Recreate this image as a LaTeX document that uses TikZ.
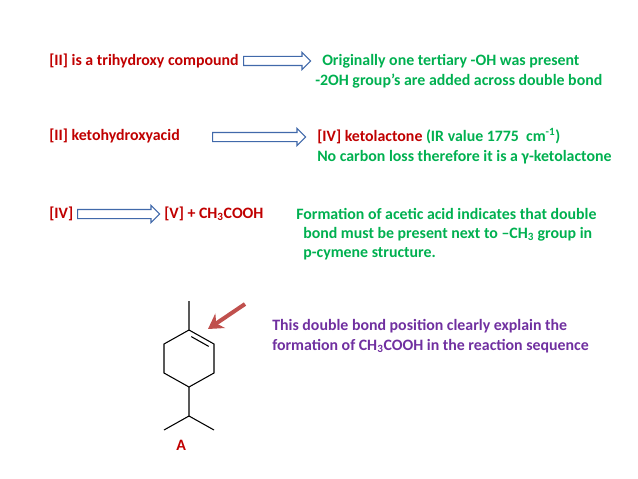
\documentclass[tikz,border=0pt]{standalone}
\usepackage{fontspec}
\setmainfont{Carlito}
\usetikzlibrary{shapes.arrows,calc,arrows.meta}
\definecolor{dred}{RGB}{192,0,0}
\definecolor{grn}{RGB}{0,176,80}
\definecolor{purp}{RGB}{112,48,160}
\definecolor{blu}{RGB}{65,105,170}
\definecolor{ared}{RGB}{192,80,77}
\begin{document}
\begin{tikzpicture}[x=0.75pt,y=-0.75pt,
  txt/.style={anchor=west,inner sep=0pt,font=\fontsize{11.9}{14}\selectfont\bfseries},
  red/.style={txt,text=dred}, gr/.style={txt,text=grn}, pu/.style={txt,text=purp},
  harrow/.style={single arrow,draw=blu,fill=white,line width=0.8pt,minimum height=#1*0.75pt,inner xsep=0pt,inner ysep=3pt,single arrow head extend=3pt,single arrow head indent=0pt,anchor=west},
  bond/.style={line width=0.8pt}]
\useasboundingbox (0,0) rectangle (638,478);
\node[red] (t1) at (49,61) {[II] is a trihydroxy compound};
\node[harrow=67] (a1) at (243,61) {};
\node[gr] (t2) at (322,61) {Originally one tertiary -OH was present};
\node[gr] (t3) at (315,81) {-2OH group's are added across double bond};
\node[red] (t4) at (49,136) {[II] ketohydroxyacid};
\node[harrow=93] (a2) at (212,137) {};
\node[txt] (t5) at (317,136) {\textcolor{dred}{[IV] ketolactone} \textcolor{grn}{(IR value 1775\ \ cm\textsuperscript{-1})}};
\node[gr] (t6) at (317,157) {No carbon loss therefore it is a γ-ketolactone};
\node[red] (t7) at (49,214) {[IV]};
\node[harrow=82] (a3) at (77,214) {};
\node[red] (t8) at (164,214) {[V] + CH\textsubscript{3}COOH};
\node[gr] (t9) at (296,214) {Formation of acetic acid indicates that double};
\node[gr] (t10) at (303,234) {bond must be present next to –CH\textsubscript{3} group in};
\node[gr] (t11) at (303,254) {p-cymene structure.};
\node[pu] (t12) at (272,326) {This double bond position clearly explain the};
\node[pu] (t13) at (272,346) {formation of CH\textsubscript{3}COOH in the reaction sequence};
% molecule
\coordinate (m) at (189,301);
\coordinate (c1) at (189,330); \coordinate (c2) at (214,344);
\coordinate (c3) at (214,373); \coordinate (c4) at (189,387);
\coordinate (c5) at (164,373); \coordinate (c6) at (164,344);
\coordinate (b) at (189,416); \coordinate (l) at (164,430); \coordinate (r) at (214,430);
\draw[bond] (m)--(c1)--(c2)--(c3)--(c4)--(c5)--(c6)--(c1);
\draw[bond] ($(c1)!0.15!(c2)+(-1.5,4.5)$) -- ($(c1)!0.85!(c2)+(-1.5,4.5)$);
\draw[bond] (c4)--(b)--(l); \draw[bond] (b)--(r);
\node[red] (A) at (176,445) {A};
\coordinate (p0) at (245,304); \coordinate (p1) at (208,329);
\draw[line width=3pt,color=ared,-{Stealth[length=11pt,width=13pt]}] (p0)--(p1);
\end{tikzpicture}
\end{document}
